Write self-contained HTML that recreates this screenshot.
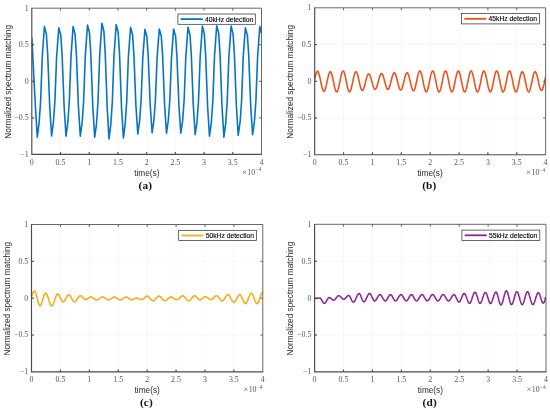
<!DOCTYPE html>
<html><head><meta charset="utf-8"><title>Normalized spectrum matching</title>
<style>
html,body{margin:0;padding:0;background:#fff;}
body{width:550px;height:410px;overflow:hidden;}
svg{display:block;}
.tk{font-family:"Liberation Serif","DejaVu Serif",serif;font-size:7.9px;fill:#585858;}
.lb{font-family:"Liberation Sans","DejaVu Sans",sans-serif;font-size:8.25px;fill:#2a2a2a;}
.lg{font-family:"Liberation Sans","DejaVu Sans",sans-serif;font-size:6.75px;fill:#000;stroke:#000;stroke-width:0.12px;}
.cp{font-family:"Liberation Serif","DejaVu Serif",serif;font-size:11.3px;font-weight:bold;fill:#111;letter-spacing:0.15px;}
.ax{stroke:#4c4c4c;stroke-width:1.15;fill:none;}
.ax2{stroke:#4c4c4c;stroke-width:0.85;fill:none;}
.gr{stroke:#f2f2f2;stroke-width:0.6;fill:none;}
</style></head><body>
<svg width="550" height="410" viewBox="0 0 550 410">
<rect x="0" y="0" width="550" height="410" fill="#ffffff"/>
<g>
<line class="gr" x1="60.51" y1="8.2" x2="60.51" y2="154.4"/>
<line class="gr" x1="89.22" y1="8.2" x2="89.22" y2="154.4"/>
<line class="gr" x1="117.94" y1="8.2" x2="117.94" y2="154.4"/>
<line class="gr" x1="146.65" y1="8.2" x2="146.65" y2="154.4"/>
<line class="gr" x1="175.36" y1="8.2" x2="175.36" y2="154.4"/>
<line class="gr" x1="204.07" y1="8.2" x2="204.07" y2="154.4"/>
<line class="gr" x1="232.79" y1="8.2" x2="232.79" y2="154.4"/>
<line class="gr" x1="31.8" y1="44.75" x2="261.5" y2="44.75"/>
<line class="gr" x1="31.8" y1="81.30" x2="261.5" y2="81.30"/>
<line class="gr" x1="31.8" y1="117.85" x2="261.5" y2="117.85"/>
<clipPath id="ca"><rect x="31.8" y="8.2" width="229.70" height="146.20"/></clipPath>
<polyline clip-path="url(#ca)" points="31.8,37.4 35.4,106.5 37.3,137.1 39.1,123.2 40.6,101.4 42.3,56.2 44.4,26.5 46.4,34.2 47.7,54.4 49.7,106.2 51.6,136.0 53.4,122.3 54.9,101.0 56.6,56.9 58.8,27.9 60.8,35.1 62.1,54.8 64.1,106.0 66.0,136.1 67.8,122.7 69.3,101.2 71.0,56.4 73.1,26.5 75.1,34.2 76.4,54.4 78.4,106.2 80.3,136.1 82.1,122.9 83.6,101.5 85.3,55.9 87.5,25.0 89.5,33.0 90.8,53.8 92.8,106.7 94.7,137.1 96.5,123.8 98.0,102.0 99.7,55.2 101.9,23.2 103.9,31.4 105.2,52.9 107.2,107.6 109.0,139.0 110.8,124.7 112.3,102.1 114.0,55.4 116.2,24.6 118.2,32.6 119.5,53.5 121.5,107.1 123.4,138.0 125.2,123.6 126.7,101.5 128.4,56.4 130.6,27.2 132.6,35.1 133.9,55.1 135.9,105.4 137.8,133.9 139.6,120.9 141.1,100.3 142.8,57.6 144.9,29.4 146.9,36.8 148.2,55.9 150.2,104.8 152.1,132.8 153.9,120.3 155.4,100.2 157.1,57.6 159.3,29.0 161.3,36.4 162.6,55.7 164.6,104.9 166.5,133.2 168.3,120.5 169.8,100.2 171.5,57.6 173.6,29.0 175.6,36.4 176.9,55.7 178.9,104.9 180.8,133.2 182.6,120.9 184.1,100.5 185.8,57.0 188.0,27.2 190.0,35.0 191.3,54.9 193.3,105.6 195.2,134.7 197.0,121.9 198.5,101.0 200.2,56.5 202.4,26.1 204.3,33.9 205.6,54.3 207.6,106.3 209.5,136.1 211.3,122.8 212.8,101.4 214.5,56.1 216.7,25.7 218.7,33.5 220.0,54.0 222.0,106.6 223.9,137.1 225.7,123.3 227.2,101.5 228.9,56.1 231.1,26.1 233.1,34.1 234.4,54.5 236.4,106.0 238.2,135.4 240.1,122.0 241.6,100.8 243.2,56.9 245.4,27.9 247.4,35.4 248.7,55.1 250.7,105.6 252.6,134.7 254.4,121.8 255.9,100.9 257.6,56.6 259.8,26.5 261.5,33.4" fill="none" stroke="#0574C6" stroke-width="1.6" stroke-linejoin="round"/>
<path class="ax2" d="M31.8 8.2H261.5V154.4"/>
<path class="ax" d="M31.8 7.799999999999999V154.4H261.9"/>
<text class="tk" x="31.80" y="164.6" text-anchor="middle">0</text>
<line class="ax" x1="60.51" y1="154.4" x2="60.51" y2="152.0"/>
<line class="ax2" x1="60.51" y1="8.2" x2="60.51" y2="10.6"/>
<text class="tk" x="60.51" y="164.6" text-anchor="middle">0.5</text>
<line class="ax" x1="89.22" y1="154.4" x2="89.22" y2="152.0"/>
<line class="ax2" x1="89.22" y1="8.2" x2="89.22" y2="10.6"/>
<text class="tk" x="89.22" y="164.6" text-anchor="middle">1</text>
<line class="ax" x1="117.94" y1="154.4" x2="117.94" y2="152.0"/>
<line class="ax2" x1="117.94" y1="8.2" x2="117.94" y2="10.6"/>
<text class="tk" x="117.94" y="164.6" text-anchor="middle">1.5</text>
<line class="ax" x1="146.65" y1="154.4" x2="146.65" y2="152.0"/>
<line class="ax2" x1="146.65" y1="8.2" x2="146.65" y2="10.6"/>
<text class="tk" x="146.65" y="164.6" text-anchor="middle">2</text>
<line class="ax" x1="175.36" y1="154.4" x2="175.36" y2="152.0"/>
<line class="ax2" x1="175.36" y1="8.2" x2="175.36" y2="10.6"/>
<text class="tk" x="175.36" y="164.6" text-anchor="middle">2.5</text>
<line class="ax" x1="204.07" y1="154.4" x2="204.07" y2="152.0"/>
<line class="ax2" x1="204.07" y1="8.2" x2="204.07" y2="10.6"/>
<text class="tk" x="204.07" y="164.6" text-anchor="middle">3</text>
<line class="ax" x1="232.79" y1="154.4" x2="232.79" y2="152.0"/>
<line class="ax2" x1="232.79" y1="8.2" x2="232.79" y2="10.6"/>
<text class="tk" x="232.79" y="164.6" text-anchor="middle">3.5</text>
<text class="tk" x="261.50" y="164.6" text-anchor="middle">4</text>
<text class="tk" x="28.6" y="10.6" text-anchor="end">1</text>
<line class="ax" x1="31.8" y1="44.75" x2="34.2" y2="44.75"/>
<line class="ax2" x1="261.5" y1="44.75" x2="259.1" y2="44.75"/>
<text class="tk" x="28.6" y="47.1" text-anchor="end">0.5</text>
<line class="ax" x1="31.8" y1="81.30" x2="34.2" y2="81.30"/>
<line class="ax2" x1="261.5" y1="81.30" x2="259.1" y2="81.30"/>
<text class="tk" x="28.6" y="83.7" text-anchor="end">0</text>
<line class="ax" x1="31.8" y1="117.85" x2="34.2" y2="117.85"/>
<line class="ax2" x1="261.5" y1="117.85" x2="259.1" y2="117.85"/>
<text class="tk" x="28.6" y="120.3" text-anchor="end">−0.5</text>
<text class="tk" x="28.6" y="156.8" text-anchor="end">−1</text>
<text class="tk" x="261.1" y="174.6" text-anchor="end"><tspan font-size="8.8px">×</tspan><tspan dx="0.5">10</tspan><tspan dy="-3.3" dx="0.2" font-size="5.3px">−4</tspan></text>
<text class="lb" x="146.8" y="175.8" text-anchor="middle">time(s)</text>
<text class="lb" transform="translate(11.1,81.8) rotate(-90)" text-anchor="middle">Normalized spectrum matching</text>
<text class="cp" x="145.4" y="188.7" text-anchor="middle">(a)</text>
<rect x="177.9" y="14.0" width="77.4" height="10.3" fill="#fff" stroke="#2a2a2a" stroke-width="0.7"/>
<line x1="180.7" y1="19.1" x2="202.7" y2="19.1" stroke="#0574C6" stroke-width="1.8"/>
<text class="lg" x="204.9" y="21.5">40kHz detection</text>
</g>
<g>
<line class="gr" x1="343.56" y1="7.8" x2="343.56" y2="154.7"/>
<line class="gr" x1="372.43" y1="7.8" x2="372.43" y2="154.7"/>
<line class="gr" x1="401.29" y1="7.8" x2="401.29" y2="154.7"/>
<line class="gr" x1="430.15" y1="7.8" x2="430.15" y2="154.7"/>
<line class="gr" x1="459.01" y1="7.8" x2="459.01" y2="154.7"/>
<line class="gr" x1="487.88" y1="7.8" x2="487.88" y2="154.7"/>
<line class="gr" x1="516.74" y1="7.8" x2="516.74" y2="154.7"/>
<line class="gr" x1="314.7" y1="44.52" x2="545.6" y2="44.52"/>
<line class="gr" x1="314.7" y1="81.25" x2="545.6" y2="81.25"/>
<line class="gr" x1="314.7" y1="117.97" x2="545.6" y2="117.97"/>
<clipPath id="cb"><rect x="314.7" y="7.8" width="230.90" height="146.90"/></clipPath>
<polyline clip-path="url(#cb)" points="314.7,79.3 315.1,77.6 315.4,76.0 315.8,74.6 316.1,73.4 316.5,72.4 316.9,71.7 317.2,71.3 317.6,71.3 318.0,71.5 318.3,72.1 318.7,72.9 319.0,74.0 319.4,75.3 319.8,76.8 320.1,78.5 320.5,80.2 320.8,82.0 321.2,83.8 321.6,85.4 321.9,87.0 322.3,88.4 322.6,89.5 323.0,90.4 323.4,91.0 323.7,91.3 324.1,91.3 324.5,90.9 324.8,90.3 325.2,89.4 325.5,88.3 325.9,86.9 326.3,85.4 326.6,83.8 327.0,82.0 327.3,80.3 327.7,78.6 328.1,77.0 328.4,75.5 328.8,74.3 329.2,73.2 329.5,72.4 329.9,71.9 330.2,71.7 330.6,71.8 331.0,72.2 331.3,73.0 331.7,74.0 332.0,75.2 332.4,76.7 332.8,78.3 333.1,80.0 333.5,81.8 333.9,83.6 334.2,85.3 334.6,86.9 334.9,88.4 335.3,89.6 335.7,90.6 336.0,91.3 336.4,91.8 336.7,91.9 337.1,91.7 337.5,91.2 337.8,90.3 338.2,89.2 338.5,87.9 338.9,86.3 339.3,84.6 339.6,82.8 340.0,80.9 340.4,79.1 340.7,77.3 341.1,75.7 341.4,74.2 341.8,73.0 342.2,72.0 342.5,71.4 342.9,71.0 343.2,71.0 343.6,71.3 344.0,71.9 344.3,72.8 344.7,74.0 345.1,75.4 345.4,77.0 345.8,78.8 346.1,80.6 346.5,82.5 346.9,84.3 347.2,86.0 347.6,87.6 347.9,89.0 348.3,90.2 348.7,91.0 349.0,91.6 349.4,91.9 349.8,91.8 350.1,91.4 350.5,90.8 350.8,89.8 351.2,88.6 351.6,87.2 351.9,85.6 352.3,83.8 352.6,82.1 353.0,80.3 353.4,78.5 353.7,76.9 354.1,75.4 354.4,74.1 354.8,73.1 355.2,72.3 355.5,71.9 355.9,71.7 356.3,71.8 356.6,72.3 357.0,73.0 357.3,74.0 357.7,75.1 358.1,76.5 358.4,78.0 358.8,79.6 359.1,81.3 359.5,82.9 359.9,84.5 360.2,86.0 360.6,87.3 361.0,88.5 361.3,89.4 361.7,90.0 362.0,90.4 362.4,90.4 362.8,90.2 363.1,89.8 363.5,89.1 363.8,88.2 364.2,87.1 364.6,85.8 364.9,84.4 365.3,83.0 365.6,81.5 366.0,80.1 366.4,78.7 366.7,77.4 367.1,76.3 367.5,75.4 367.8,74.7 368.2,74.2 368.5,73.9 368.9,73.9 369.3,74.2 369.6,74.7 370.0,75.4 370.3,76.3 370.7,77.4 371.1,78.6 371.4,79.9 371.8,81.2 372.2,82.6 372.5,83.9 372.9,85.2 373.2,86.3 373.6,87.3 374.0,88.2 374.3,88.8 374.7,89.2 375.0,89.3 375.4,89.2 375.8,88.9 376.1,88.3 376.5,87.5 376.9,86.6 377.2,85.4 377.6,84.2 377.9,82.8 378.3,81.4 378.7,80.0 379.0,78.7 379.4,77.4 379.7,76.3 380.1,75.3 380.5,74.5 380.8,74.0 381.2,73.6 381.5,73.5 381.9,73.7 382.3,74.1 382.6,74.7 383.0,75.6 383.4,76.6 383.7,77.8 384.1,79.1 384.4,80.4 384.8,81.8 385.2,83.2 385.5,84.6 385.9,85.8 386.2,86.9 386.6,87.8 387.0,88.5 387.3,89.0 387.7,89.3 388.1,89.3 388.4,89.1 388.8,88.6 389.1,87.8 389.5,86.9 389.9,85.8 390.2,84.5 390.6,83.1 390.9,81.7 391.3,80.2 391.7,78.8 392.0,77.4 392.4,76.2 392.8,75.1 393.1,74.2 393.5,73.5 393.8,73.0 394.2,72.8 394.6,72.9 394.9,73.2 395.3,73.8 395.6,74.6 396.0,75.7 396.4,76.9 396.7,78.2 397.1,79.7 397.4,81.2 397.8,82.8 398.2,84.2 398.5,85.6 398.9,86.9 399.3,88.0 399.6,88.9 400.0,89.5 400.3,89.9 400.7,90.1 401.1,89.9 401.4,89.5 401.8,88.9 402.1,88.0 402.5,86.9 402.9,85.6 403.2,84.2 403.6,82.7 404.0,81.2 404.3,79.7 404.7,78.2 405.0,76.8 405.4,75.6 405.8,74.6 406.1,73.8 406.5,73.2 406.8,72.9 407.2,72.8 407.6,73.0 407.9,73.5 408.3,74.3 408.6,75.3 409.0,76.5 409.4,77.9 409.7,79.4 410.1,80.9 410.5,82.5 410.8,84.1 411.2,85.6 411.5,87.0 411.9,88.2 412.3,89.2 412.6,90.0 413.0,90.5 413.3,90.8 413.7,90.7 414.1,90.4 414.4,89.8 414.8,88.9 415.2,87.7 415.5,86.3 415.9,84.8 416.2,83.1 416.6,81.3 417.0,79.6 417.3,77.9 417.7,76.3 418.0,74.8 418.4,73.5 418.8,72.4 419.1,71.7 419.5,71.2 419.9,71.0 420.2,71.1 420.6,71.5 420.9,72.3 421.3,73.3 421.7,74.6 422.0,76.2 422.4,77.8 422.7,79.6 423.1,81.5 423.5,83.3 423.8,85.1 424.2,86.8 424.5,88.3 424.9,89.6 425.3,90.6 425.6,91.4 426.0,91.8 426.4,91.9 426.7,91.7 427.1,91.1 427.4,90.3 427.8,89.2 428.2,87.8 428.5,86.2 428.9,84.5 429.2,82.7 429.6,80.9 430.0,79.0 430.3,77.3 430.7,75.6 431.1,74.2 431.4,73.0 431.8,72.0 432.1,71.4 432.5,71.0 432.9,71.0 433.2,71.3 433.6,71.9 433.9,72.9 434.3,74.1 434.7,75.5 435.0,77.1 435.4,78.9 435.8,80.7 436.1,82.5 436.5,84.4 436.8,86.1 437.2,87.7 437.6,89.1 437.9,90.2 438.3,91.1 438.6,91.6 439.0,91.9 439.4,91.8 439.7,91.4 440.1,90.7 440.4,89.7 440.8,88.4 441.2,86.9 441.5,85.3 441.9,83.5 442.3,81.6 442.6,79.8 443.0,78.0 443.3,76.3 443.7,74.8 444.1,73.5 444.4,72.4 444.8,71.6 445.1,71.1 445.5,71.0 445.9,71.1 446.2,71.6 446.6,72.4 447.0,73.5 447.3,74.9 447.7,76.4 448.0,78.1 448.4,79.9 448.8,81.8 449.1,83.6 449.5,85.4 449.8,87.0 450.2,88.5 450.6,89.8 450.9,90.7 451.3,91.4 451.7,91.8 452.0,91.9 452.4,91.6 452.7,91.0 453.1,90.1 453.5,89.0 453.8,87.6 454.2,86.0 454.5,84.2 454.9,82.4 455.3,80.6 455.6,78.7 456.0,77.0 456.3,75.4 456.7,74.0 457.1,72.8 457.4,71.9 457.8,71.3 458.2,71.0 458.5,71.0 458.9,71.4 459.2,72.1 459.6,73.0 460.0,74.3 460.3,75.7 460.7,77.4 461.0,79.1 461.4,81.0 461.8,82.8 462.1,84.6 462.5,86.3 462.9,87.9 463.2,89.3 463.6,90.4 463.9,91.2 464.3,91.7 464.7,91.9 465.0,91.8 465.4,91.3 465.7,90.5 466.1,89.5 466.5,88.2 466.8,86.7 467.2,85.0 467.5,83.2 467.9,81.4 468.3,79.5 468.6,77.7 469.0,76.1 469.4,74.6 469.7,73.3 470.1,72.2 470.4,71.5 470.8,71.1 471.2,71.0 471.5,71.2 471.9,71.7 472.2,72.6 472.6,73.7 473.0,75.1 473.3,76.7 473.7,78.4 474.1,80.2 474.4,82.0 474.8,83.9 475.1,85.6 475.5,87.3 475.9,88.7 476.2,89.9 476.6,90.9 476.9,91.5 477.3,91.9 477.7,91.9 478.0,91.5 478.4,90.9 478.8,90.0 479.1,88.8 479.5,87.3 479.8,85.7 480.2,84.0 480.6,82.1 480.9,80.3 481.3,78.5 481.6,76.7 482.0,75.2 482.4,73.8 482.7,72.6 483.1,71.8 483.4,71.2 483.8,71.0 484.2,71.1 484.5,71.5 484.9,72.2 485.3,73.2 485.6,74.5 486.0,76.0 486.3,77.6 486.7,79.4 487.1,81.3 487.4,83.1 487.8,84.9 488.1,86.6 488.5,88.1 488.9,89.4 489.2,90.5 489.6,91.3 490.0,91.8 490.3,91.9 490.7,91.7 491.0,91.2 491.4,90.4 491.8,89.3 492.1,88.0 492.5,86.4 492.8,84.7 493.2,82.9 493.6,81.1 493.9,79.2 494.3,77.5 494.7,75.8 495.0,74.3 495.4,73.1 495.7,72.1 496.1,71.4 496.5,71.0 496.8,71.0 497.2,71.3 497.5,71.9 497.9,72.8 498.3,73.9 498.6,75.3 499.0,76.9 499.3,78.7 499.7,80.5 500.1,82.3 500.4,84.2 500.8,85.9 501.2,87.5 501.5,88.9 501.9,90.1 502.2,91.0 502.6,91.6 503.0,91.9 503.3,91.8 503.7,91.5 504.0,90.8 504.4,89.8 504.8,88.6 505.1,87.1 505.5,85.5 505.9,83.7 506.2,81.9 506.6,80.0 506.9,78.2 507.3,76.5 507.7,74.9 508.0,73.6 508.4,72.5 508.7,71.7 509.1,71.2 509.5,71.0 509.8,71.1 510.2,71.6 510.5,72.3 510.9,73.4 511.3,74.7 511.6,76.2 512.0,77.9 512.4,79.7 512.7,81.5 513.1,83.4 513.4,85.2 513.8,86.8 514.2,88.3 514.5,89.6 514.9,90.6 515.2,91.4 515.6,91.8 516.0,91.9 516.3,91.7 516.7,91.1 517.1,90.3 517.4,89.2 517.8,87.9 518.1,86.4 518.5,84.7 518.9,83.0 519.2,81.2 519.6,79.4 519.9,77.7 520.3,76.1 520.7,74.8 521.0,73.6 521.4,72.7 521.8,72.1 522.1,71.7 522.5,71.7 522.8,72.1 523.2,72.7 523.6,73.6 523.9,74.7 524.3,76.1 524.6,77.7 525.0,79.4 525.4,81.2 525.7,82.9 526.1,84.7 526.4,86.4 526.8,87.9 527.2,89.2 527.5,90.3 527.9,91.1 528.3,91.7 528.6,91.9 529.0,91.8 529.3,91.4 529.7,90.7 530.1,89.7 530.4,88.5 530.8,87.0 531.1,85.4 531.5,83.7 531.9,81.9 532.2,80.1 532.6,78.4 533.0,76.8 533.3,75.3 533.7,74.1 534.0,73.0 534.4,72.3 534.8,71.8 535.1,71.7 535.5,71.9 535.8,72.3 536.2,73.1 536.6,74.0 536.9,75.2 537.3,76.6 537.7,78.2 538.0,79.8 538.4,81.4 538.7,83.1 539.1,84.7 539.5,86.1 539.8,87.4 540.2,88.5 540.5,89.4 540.9,90.0 541.3,90.4 541.6,90.4 542.0,90.2 542.3,89.6 542.7,88.8 543.1,87.8 543.4,86.5 543.8,85.1 544.2,83.5 544.5,81.9 544.9,80.2 545.2,78.6 545.6,77.0" fill="none" stroke="#F04E14" stroke-width="1.55" stroke-linejoin="round"/>
<path class="ax2" d="M314.7 7.8H545.6V154.7"/>
<path class="ax" d="M314.7 7.3999999999999995V154.7H546.0"/>
<text class="tk" x="314.70" y="164.9" text-anchor="middle">0</text>
<line class="ax" x1="343.56" y1="154.7" x2="343.56" y2="152.29999999999998"/>
<line class="ax2" x1="343.56" y1="7.8" x2="343.56" y2="10.2"/>
<text class="tk" x="343.56" y="164.9" text-anchor="middle">0.5</text>
<line class="ax" x1="372.43" y1="154.7" x2="372.43" y2="152.29999999999998"/>
<line class="ax2" x1="372.43" y1="7.8" x2="372.43" y2="10.2"/>
<text class="tk" x="372.43" y="164.9" text-anchor="middle">1</text>
<line class="ax" x1="401.29" y1="154.7" x2="401.29" y2="152.29999999999998"/>
<line class="ax2" x1="401.29" y1="7.8" x2="401.29" y2="10.2"/>
<text class="tk" x="401.29" y="164.9" text-anchor="middle">1.5</text>
<line class="ax" x1="430.15" y1="154.7" x2="430.15" y2="152.29999999999998"/>
<line class="ax2" x1="430.15" y1="7.8" x2="430.15" y2="10.2"/>
<text class="tk" x="430.15" y="164.9" text-anchor="middle">2</text>
<line class="ax" x1="459.01" y1="154.7" x2="459.01" y2="152.29999999999998"/>
<line class="ax2" x1="459.01" y1="7.8" x2="459.01" y2="10.2"/>
<text class="tk" x="459.01" y="164.9" text-anchor="middle">2.5</text>
<line class="ax" x1="487.88" y1="154.7" x2="487.88" y2="152.29999999999998"/>
<line class="ax2" x1="487.88" y1="7.8" x2="487.88" y2="10.2"/>
<text class="tk" x="487.88" y="164.9" text-anchor="middle">3</text>
<line class="ax" x1="516.74" y1="154.7" x2="516.74" y2="152.29999999999998"/>
<line class="ax2" x1="516.74" y1="7.8" x2="516.74" y2="10.2"/>
<text class="tk" x="516.74" y="164.9" text-anchor="middle">3.5</text>
<text class="tk" x="545.60" y="164.9" text-anchor="middle">4</text>
<text class="tk" x="311.5" y="10.2" text-anchor="end">1</text>
<line class="ax" x1="314.7" y1="44.52" x2="317.09999999999997" y2="44.52"/>
<line class="ax2" x1="545.6" y1="44.52" x2="543.2" y2="44.52"/>
<text class="tk" x="311.5" y="46.9" text-anchor="end">0.5</text>
<line class="ax" x1="314.7" y1="81.25" x2="317.09999999999997" y2="81.25"/>
<line class="ax2" x1="545.6" y1="81.25" x2="543.2" y2="81.25"/>
<text class="tk" x="311.5" y="83.6" text-anchor="end">0</text>
<line class="ax" x1="314.7" y1="117.97" x2="317.09999999999997" y2="117.97"/>
<line class="ax2" x1="545.6" y1="117.97" x2="543.2" y2="117.97"/>
<text class="tk" x="311.5" y="120.4" text-anchor="end">−0.5</text>
<text class="tk" x="311.5" y="157.1" text-anchor="end">−1</text>
<text class="tk" x="545.2" y="174.9" text-anchor="end"><tspan font-size="8.8px">×</tspan><tspan dx="0.5">10</tspan><tspan dy="-3.3" dx="0.2" font-size="5.3px">−4</tspan></text>
<text class="lb" x="430.1" y="176.1" text-anchor="middle">time(s)</text>
<text class="lb" transform="translate(293.4,81.8) rotate(-90)" text-anchor="middle">Normalized spectrum matching</text>
<text class="cp" x="429.3" y="189.0" text-anchor="middle">(b)</text>
<rect x="461.5" y="13.6" width="77.9" height="10.3" fill="#fff" stroke="#2a2a2a" stroke-width="0.7"/>
<line x1="464.3" y1="18.8" x2="486.3" y2="18.8" stroke="#F04E14" stroke-width="1.8"/>
<text class="lg" x="488.5" y="21.1">45kHz detection</text>
</g>
<g>
<line class="gr" x1="60.41" y1="224.5" x2="60.41" y2="371.9"/>
<line class="gr" x1="89.33" y1="224.5" x2="89.33" y2="371.9"/>
<line class="gr" x1="118.24" y1="224.5" x2="118.24" y2="371.9"/>
<line class="gr" x1="147.15" y1="224.5" x2="147.15" y2="371.9"/>
<line class="gr" x1="176.06" y1="224.5" x2="176.06" y2="371.9"/>
<line class="gr" x1="204.98" y1="224.5" x2="204.98" y2="371.9"/>
<line class="gr" x1="233.89" y1="224.5" x2="233.89" y2="371.9"/>
<line class="gr" x1="31.5" y1="261.35" x2="262.8" y2="261.35"/>
<line class="gr" x1="31.5" y1="298.20" x2="262.8" y2="298.20"/>
<line class="gr" x1="31.5" y1="335.05" x2="262.8" y2="335.05"/>
<clipPath id="cc"><rect x="31.5" y="224.5" width="231.30" height="147.40"/></clipPath>
<polyline clip-path="url(#cc)" points="31.5,296.9 31.9,295.7 32.2,294.6 32.6,293.6 32.9,292.8 33.3,292.0 33.7,291.5 34.0,291.2 34.4,291.1 34.8,291.2 35.1,291.7 35.5,292.4 35.8,293.4 36.2,294.6 36.6,295.9 36.9,297.4 37.3,298.9 37.7,300.4 38.0,301.8 38.4,303.0 38.7,304.1 39.1,305.0 39.5,305.5 39.8,305.8 40.2,305.8 40.5,305.6 40.9,305.0 41.3,304.3 41.6,303.3 42.0,302.2 42.4,301.0 42.7,299.7 43.1,298.4 43.4,297.2 43.8,296.0 44.2,295.0 44.5,294.2 44.9,293.5 45.3,293.2 45.6,293.0 46.0,293.2 46.3,293.5 46.7,294.1 47.1,294.8 47.4,295.7 47.8,296.8 48.2,297.9 48.5,299.1 48.9,300.3 49.2,301.5 49.6,302.6 50.0,303.6 50.3,304.4 50.7,305.1 51.0,305.6 51.4,305.8 51.8,305.9 52.1,305.7 52.5,305.3 52.9,304.7 53.2,304.0 53.6,303.1 53.9,302.1 54.3,301.0 54.7,299.9 55.0,298.7 55.4,297.7 55.8,296.7 56.1,295.8 56.5,295.0 56.8,294.5 57.2,294.1 57.6,293.9 57.9,294.0 58.3,294.2 58.6,294.5 59.0,295.0 59.4,295.7 59.7,296.4 60.1,297.2 60.5,298.0 60.8,298.8 61.2,299.6 61.5,300.3 61.9,300.9 62.3,301.4 62.6,301.7 63.0,301.9 63.4,301.9 63.7,301.7 64.1,301.4 64.4,301.0 64.8,300.4 65.2,299.8 65.5,299.1 65.9,298.4 66.2,297.6 66.6,296.9 67.0,296.3 67.3,295.7 67.7,295.3 68.1,294.9 68.4,294.8 68.8,294.7 69.1,294.9 69.5,295.1 69.9,295.5 70.2,295.9 70.6,296.5 71.0,297.1 71.3,297.8 71.7,298.5 72.0,299.2 72.4,299.9 72.8,300.4 73.1,301.0 73.5,301.4 73.9,301.7 74.2,301.8 74.6,301.9 74.9,301.8 75.3,301.6 75.7,301.3 76.0,300.9 76.4,300.4 76.7,299.9 77.1,299.3 77.5,298.7 77.8,298.1 78.2,297.6 78.6,297.1 78.9,296.6 79.3,296.2 79.6,296.0 80.0,295.8 80.4,295.8 80.7,295.8 81.1,296.0 81.5,296.2 81.8,296.5 82.2,296.8 82.5,297.2 82.9,297.6 83.3,298.0 83.6,298.4 84.0,298.8 84.3,299.1 84.7,299.3 85.1,299.5 85.4,299.6 85.8,299.6 86.2,299.5 86.5,299.4 86.9,299.2 87.2,299.0 87.6,298.8 88.0,298.5 88.3,298.2 88.7,297.9 89.1,297.7 89.4,297.4 89.8,297.2 90.1,297.1 90.5,297.0 90.9,296.9 91.2,297.0 91.6,297.0 91.9,297.2 92.3,297.4 92.7,297.6 93.0,297.8 93.4,298.1 93.8,298.4 94.1,298.7 94.5,299.0 94.8,299.2 95.2,299.5 95.6,299.7 95.9,299.8 96.3,299.9 96.7,300.0 97.0,300.0 97.4,299.9 97.7,299.8 98.1,299.6 98.5,299.4 98.8,299.1 99.2,298.9 99.6,298.6 99.9,298.3 100.3,298.0 100.6,297.7 101.0,297.5 101.4,297.3 101.7,297.1 102.1,297.0 102.4,297.0 102.8,297.0 103.2,297.0 103.5,297.1 103.9,297.3 104.3,297.5 104.6,297.7 105.0,298.0 105.3,298.3 105.7,298.6 106.1,298.8 106.4,299.1 106.8,299.4 107.2,299.6 107.5,299.8 107.9,299.9 108.2,300.0 108.6,300.0 109.0,299.9 109.3,299.8 109.7,299.7 110.0,299.5 110.4,299.3 110.8,299.0 111.1,298.7 111.5,298.4 111.9,298.2 112.2,297.9 112.6,297.6 112.9,297.4 113.3,297.2 113.7,297.1 114.0,297.0 114.4,296.9 114.8,297.0 115.1,297.0 115.5,297.2 115.8,297.4 116.2,297.6 116.6,297.8 116.9,298.1 117.3,298.4 117.6,298.7 118.0,299.0 118.4,299.2 118.7,299.5 119.1,299.7 119.5,299.8 119.8,299.9 120.2,300.0 120.5,300.0 120.9,299.9 121.3,299.8 121.6,299.6 122.0,299.4 122.4,299.1 122.7,298.9 123.1,298.6 123.4,298.3 123.8,298.0 124.2,297.7 124.5,297.5 124.9,297.3 125.3,297.1 125.6,297.0 126.0,297.0 126.3,297.0 126.7,297.0 127.1,297.2 127.4,297.4 127.8,297.6 128.1,297.9 128.5,298.2 128.9,298.6 129.2,298.9 129.6,299.2 130.0,299.5 130.3,299.7 130.7,299.8 131.0,299.9 131.4,300.0 131.8,299.9 132.1,299.9 132.5,299.8 132.9,299.6 133.2,299.4 133.6,299.2 133.9,299.0 134.3,298.8 134.7,298.6 135.0,298.4 135.4,298.3 135.7,298.2 136.1,298.1 136.5,298.1 136.8,298.1 137.2,298.1 137.6,298.2 137.9,298.3 138.3,298.4 138.6,298.6 139.0,298.7 139.4,298.9 139.7,299.1 140.1,299.2 140.5,299.3 140.8,299.5 141.2,299.5 141.5,299.6 141.9,299.6 142.3,299.6 142.6,299.4 143.0,299.2 143.3,299.0 143.7,298.7 144.1,298.3 144.4,297.9 144.8,297.6 145.2,297.2 145.5,296.9 145.9,296.6 146.2,296.3 146.6,296.2 147.0,296.1 147.3,296.1 147.7,296.1 148.1,296.3 148.4,296.5 148.8,296.9 149.1,297.2 149.5,297.6 149.9,298.1 150.2,298.6 150.6,299.0 151.0,299.5 151.3,299.8 151.7,300.2 152.0,300.5 152.4,300.7 152.8,300.8 153.1,300.9 153.5,300.8 153.8,300.7 154.2,300.4 154.6,300.2 154.9,299.8 155.3,299.4 155.7,298.9 156.0,298.5 156.4,298.0 156.7,297.6 157.1,297.2 157.5,296.8 157.8,296.5 158.2,296.3 158.6,296.1 158.9,296.1 159.3,296.1 159.6,296.2 160.0,296.4 160.4,296.7 160.7,297.0 161.1,297.4 161.4,297.9 161.8,298.3 162.2,298.8 162.5,299.2 162.9,299.7 163.3,300.0 163.6,300.3 164.0,300.6 164.3,300.8 164.7,300.8 165.1,300.8 165.4,300.8 165.8,300.6 166.2,300.4 166.5,300.1 166.9,299.8 167.2,299.5 167.6,299.1 168.0,298.8 168.3,298.4 168.7,298.0 169.0,297.7 169.4,297.5 169.8,297.3 170.1,297.1 170.5,297.0 170.9,297.0 171.2,297.1 171.6,297.1 171.9,297.3 172.3,297.4 172.7,297.6 173.0,297.8 173.4,298.1 173.8,298.3 174.1,298.6 174.5,298.8 174.8,299.0 175.2,299.2 175.6,299.4 175.9,299.5 176.3,299.6 176.7,299.6 177.0,299.6 177.4,299.5 177.7,299.4 178.1,299.2 178.5,298.9 178.8,298.6 179.2,298.3 179.5,297.9 179.9,297.6 180.3,297.2 180.6,296.9 181.0,296.5 181.4,296.3 181.7,296.1 182.1,295.9 182.4,295.8 182.8,295.8 183.2,295.8 183.5,296.0 183.9,296.2 184.3,296.5 184.6,296.9 185.0,297.3 185.3,297.8 185.7,298.2 186.1,298.7 186.4,299.2 186.8,299.6 187.1,300.0 187.5,300.3 187.9,300.6 188.2,300.8 188.6,300.8 189.0,300.8 189.3,300.7 189.7,300.5 190.0,300.2 190.4,299.9 190.8,299.5 191.1,299.0 191.5,298.6 191.9,298.1 192.2,297.6 192.6,297.1 192.9,296.7 193.3,296.4 193.7,296.1 194.0,295.9 194.4,295.8 194.7,295.8 195.1,295.8 195.5,296.0 195.8,296.3 196.2,296.6 196.6,297.0 196.9,297.4 197.3,297.8 197.6,298.3 198.0,298.7 198.4,299.1 198.7,299.4 199.1,299.7 199.5,299.9 199.8,300.0 200.2,300.0 200.5,299.9 200.9,299.7 201.3,299.5 201.6,299.2 202.0,298.9 202.4,298.6 202.7,298.2 203.1,297.9 203.4,297.5 203.8,297.2 204.2,297.0 204.5,296.8 204.9,296.7 205.2,296.7 205.6,296.7 206.0,296.8 206.3,296.9 206.7,297.1 207.1,297.3 207.4,297.6 207.8,297.9 208.1,298.2 208.5,298.5 208.9,298.8 209.2,299.0 209.6,299.2 210.0,299.4 210.3,299.5 210.7,299.6 211.0,299.6 211.4,299.5 211.8,299.4 212.1,299.2 212.5,298.9 212.8,298.6 213.2,298.2 213.6,297.8 213.9,297.4 214.3,297.0 214.7,296.7 215.0,296.4 215.4,296.1 215.7,295.9 216.1,295.8 216.5,295.8 216.8,295.8 217.2,296.0 217.6,296.2 217.9,296.5 218.3,296.9 218.6,297.3 219.0,297.8 219.4,298.3 219.7,298.8 220.1,299.3 220.4,299.7 220.8,300.1 221.2,300.4 221.5,300.7 221.9,300.8 222.3,300.9 222.6,300.8 223.0,300.6 223.3,300.3 223.7,299.9 224.1,299.4 224.4,298.8 224.8,298.2 225.2,297.6 225.5,297.0 225.9,296.4 226.2,295.9 226.6,295.4 227.0,295.0 227.3,294.7 227.7,294.6 228.1,294.5 228.4,294.6 228.8,294.9 229.1,295.2 229.5,295.7 229.9,296.3 230.2,297.0 230.6,297.7 230.9,298.5 231.3,299.3 231.7,300.0 232.0,300.7 232.4,301.3 232.8,301.7 233.1,302.1 233.5,302.3 233.8,302.4 234.2,302.3 234.6,302.1 234.9,301.8 235.3,301.3 235.7,300.8 236.0,300.1 236.4,299.4 236.7,298.7 237.1,297.9 237.5,297.2 237.8,296.5 238.2,296.0 238.5,295.5 238.9,295.1 239.3,294.8 239.6,294.7 240.0,294.8 240.4,295.0 240.7,295.4 241.1,295.9 241.4,296.6 241.8,297.3 242.2,298.1 242.5,299.0 242.9,299.9 243.3,300.7 243.6,301.5 244.0,302.2 244.3,302.8 244.7,303.2 245.1,303.5 245.4,303.7 245.8,303.6 246.1,303.3 246.5,302.9 246.9,302.3 247.2,301.5 247.6,300.6 248.0,299.6 248.3,298.6 248.7,297.6 249.0,296.6 249.4,295.7 249.8,294.9 250.1,294.2 250.5,293.7 250.9,293.3 251.2,293.2 251.6,293.3 251.9,293.5 252.3,294.0 252.7,294.6 253.0,295.3 253.4,296.2 253.8,297.2 254.1,298.2 254.5,299.2 254.8,300.2 255.2,301.1 255.6,301.9 255.9,302.6 256.3,303.1 256.6,303.5 257.0,303.6 257.4,303.6 257.7,303.3 258.1,302.9 258.5,302.2 258.8,301.4 259.2,300.4 259.5,299.3 259.9,298.2 260.3,297.1 260.6,295.9 261.0,294.9 261.4,294.0 261.7,293.2 262.1,292.6 262.4,292.2 262.8,292.0" fill="none" stroke="#F8AC18" stroke-width="1.55" stroke-linejoin="round"/>
<path class="ax2" d="M31.5 224.5H262.8V371.9"/>
<path class="ax" d="M31.5 224.1V371.9H263.2"/>
<text class="tk" x="31.50" y="382.1" text-anchor="middle">0</text>
<line class="ax" x1="60.41" y1="371.9" x2="60.41" y2="369.5"/>
<line class="ax2" x1="60.41" y1="224.5" x2="60.41" y2="226.9"/>
<text class="tk" x="60.41" y="382.1" text-anchor="middle">0.5</text>
<line class="ax" x1="89.33" y1="371.9" x2="89.33" y2="369.5"/>
<line class="ax2" x1="89.33" y1="224.5" x2="89.33" y2="226.9"/>
<text class="tk" x="89.33" y="382.1" text-anchor="middle">1</text>
<line class="ax" x1="118.24" y1="371.9" x2="118.24" y2="369.5"/>
<line class="ax2" x1="118.24" y1="224.5" x2="118.24" y2="226.9"/>
<text class="tk" x="118.24" y="382.1" text-anchor="middle">1.5</text>
<line class="ax" x1="147.15" y1="371.9" x2="147.15" y2="369.5"/>
<line class="ax2" x1="147.15" y1="224.5" x2="147.15" y2="226.9"/>
<text class="tk" x="147.15" y="382.1" text-anchor="middle">2</text>
<line class="ax" x1="176.06" y1="371.9" x2="176.06" y2="369.5"/>
<line class="ax2" x1="176.06" y1="224.5" x2="176.06" y2="226.9"/>
<text class="tk" x="176.06" y="382.1" text-anchor="middle">2.5</text>
<line class="ax" x1="204.98" y1="371.9" x2="204.98" y2="369.5"/>
<line class="ax2" x1="204.98" y1="224.5" x2="204.98" y2="226.9"/>
<text class="tk" x="204.98" y="382.1" text-anchor="middle">3</text>
<line class="ax" x1="233.89" y1="371.9" x2="233.89" y2="369.5"/>
<line class="ax2" x1="233.89" y1="224.5" x2="233.89" y2="226.9"/>
<text class="tk" x="233.89" y="382.1" text-anchor="middle">3.5</text>
<text class="tk" x="262.80" y="382.1" text-anchor="middle">4</text>
<text class="tk" x="28.3" y="226.9" text-anchor="end">1</text>
<line class="ax" x1="31.5" y1="261.35" x2="33.9" y2="261.35"/>
<line class="ax2" x1="262.8" y1="261.35" x2="260.40000000000003" y2="261.35"/>
<text class="tk" x="28.3" y="263.8" text-anchor="end">0.5</text>
<line class="ax" x1="31.5" y1="298.20" x2="33.9" y2="298.20"/>
<line class="ax2" x1="262.8" y1="298.20" x2="260.40000000000003" y2="298.20"/>
<text class="tk" x="28.3" y="300.6" text-anchor="end">0</text>
<line class="ax" x1="31.5" y1="335.05" x2="33.9" y2="335.05"/>
<line class="ax2" x1="262.8" y1="335.05" x2="260.40000000000003" y2="335.05"/>
<text class="tk" x="28.3" y="337.4" text-anchor="end">−0.5</text>
<text class="tk" x="28.3" y="374.3" text-anchor="end">−1</text>
<text class="tk" x="262.4" y="392.1" text-anchor="end"><tspan font-size="8.8px">×</tspan><tspan dx="0.5">10</tspan><tspan dy="-3.3" dx="0.2" font-size="5.3px">−4</tspan></text>
<text class="lb" x="147.2" y="393.3" text-anchor="middle">time(s)</text>
<text class="lb" transform="translate(10.3,298.7) rotate(-90)" text-anchor="middle">Normalized spectrum matching</text>
<text class="cp" x="146.4" y="406.2" text-anchor="middle">(c)</text>
<rect x="178.7" y="230.3" width="77.9" height="10.3" fill="#fff" stroke="#2a2a2a" stroke-width="0.7"/>
<line x1="181.5" y1="235.5" x2="203.5" y2="235.5" stroke="#F8AC18" stroke-width="1.8"/>
<text class="lg" x="205.7" y="237.9">50kHz detection</text>
</g>
<g>
<line class="gr" x1="343.53" y1="224.3" x2="343.53" y2="371.9"/>
<line class="gr" x1="372.45" y1="224.3" x2="372.45" y2="371.9"/>
<line class="gr" x1="401.38" y1="224.3" x2="401.38" y2="371.9"/>
<line class="gr" x1="430.30" y1="224.3" x2="430.30" y2="371.9"/>
<line class="gr" x1="459.23" y1="224.3" x2="459.23" y2="371.9"/>
<line class="gr" x1="488.15" y1="224.3" x2="488.15" y2="371.9"/>
<line class="gr" x1="517.08" y1="224.3" x2="517.08" y2="371.9"/>
<line class="gr" x1="314.6" y1="261.20" x2="546.0" y2="261.20"/>
<line class="gr" x1="314.6" y1="298.10" x2="546.0" y2="298.10"/>
<line class="gr" x1="314.6" y1="335.00" x2="546.0" y2="335.00"/>
<clipPath id="cd"><rect x="314.6" y="224.3" width="231.40" height="147.60"/></clipPath>
<polyline clip-path="url(#cd)" points="314.6,298.4 315.0,298.4 315.3,298.4 315.7,298.4 316.0,298.4 316.4,298.4 316.8,298.4 317.1,298.3 317.5,298.2 317.9,298.2 318.2,298.1 318.6,298.0 318.9,297.9 319.3,297.9 319.7,297.9 320.0,298.0 320.4,298.2 320.8,298.6 321.1,299.1 321.5,299.7 321.8,300.4 322.2,301.0 322.6,301.7 322.9,302.2 323.3,302.7 323.7,303.1 324.0,303.3 324.4,303.3 324.7,303.2 325.1,303.0 325.5,302.6 325.8,302.1 326.2,301.5 326.6,300.8 326.9,300.1 327.3,299.5 327.6,298.9 328.0,298.4 328.4,298.0 328.7,297.7 329.1,297.6 329.4,297.6 329.8,297.7 330.2,297.9 330.5,298.1 330.9,298.4 331.3,298.7 331.6,299.1 332.0,299.4 332.3,299.7 332.7,299.9 333.1,300.1 333.4,300.2 333.8,300.2 334.2,300.1 334.5,299.8 334.9,299.5 335.2,299.2 335.6,298.7 336.0,298.2 336.3,297.7 336.7,297.2 337.1,296.8 337.4,296.4 337.8,296.0 338.1,295.8 338.5,295.7 338.9,295.7 339.2,295.8 339.6,295.9 339.9,296.2 340.3,296.5 340.7,296.8 341.0,297.2 341.4,297.6 341.8,298.0 342.1,298.4 342.5,298.7 342.8,299.0 343.2,299.2 343.6,299.3 343.9,299.3 344.3,299.2 344.7,299.0 345.0,298.7 345.4,298.4 345.7,297.9 346.1,297.5 346.5,297.1 346.8,296.6 347.2,296.2 347.6,295.9 347.9,295.7 348.3,295.5 348.6,295.4 349.0,295.5 349.4,295.8 349.7,296.3 350.1,296.8 350.5,297.6 350.8,298.3 351.2,299.2 351.5,299.9 351.9,300.7 352.3,301.3 352.6,301.7 353.0,302.0 353.3,302.1 353.7,302.0 354.1,301.7 354.4,301.3 354.8,300.8 355.2,300.1 355.5,299.4 355.9,298.6 356.2,297.7 356.6,296.9 357.0,296.1 357.3,295.3 357.7,294.7 358.1,294.2 358.4,293.8 358.8,293.6 359.1,293.5 359.5,293.7 359.9,294.1 360.2,294.7 360.6,295.4 361.0,296.3 361.3,297.3 361.7,298.3 362.0,299.2 362.4,300.1 362.8,300.8 363.1,301.4 363.5,301.7 363.8,301.8 364.2,301.7 364.6,301.4 364.9,301.0 365.3,300.5 365.7,299.9 366.0,299.2 366.4,298.4 366.7,297.6 367.1,296.8 367.5,296.0 367.8,295.3 368.2,294.7 368.6,294.2 368.9,293.8 369.3,293.6 369.6,293.5 370.0,293.6 370.4,293.9 370.7,294.4 371.1,295.0 371.5,295.8 371.8,296.6 372.2,297.4 372.5,298.2 372.9,299.0 373.3,299.7 373.6,300.3 374.0,300.7 374.4,300.9 374.7,300.9 375.1,300.8 375.4,300.5 375.8,300.2 376.2,299.7 376.5,299.1 376.9,298.5 377.2,297.9 377.6,297.2 378.0,296.6 378.3,296.0 378.7,295.5 379.1,295.1 379.4,294.8 379.8,294.7 380.1,294.6 380.5,294.8 380.9,295.0 381.2,295.4 381.6,295.9 382.0,296.5 382.3,297.1 382.7,297.8 383.0,298.4 383.4,299.1 383.8,299.7 384.1,300.1 384.5,300.5 384.9,300.8 385.2,300.9 385.6,300.9 385.9,300.7 386.3,300.4 386.7,299.9 387.0,299.4 387.4,298.7 387.7,298.0 388.1,297.3 388.5,296.7 388.8,296.0 389.2,295.5 389.6,295.1 389.9,294.8 390.3,294.6 390.6,294.7 391.0,294.8 391.4,295.1 391.7,295.6 392.1,296.1 392.5,296.8 392.8,297.5 393.2,298.2 393.5,298.8 393.9,299.5 394.3,300.0 394.6,300.4 395.0,300.7 395.4,300.9 395.7,300.9 396.1,300.7 396.4,300.5 396.8,300.1 397.2,299.6 397.5,299.0 397.9,298.4 398.3,297.8 398.6,297.1 399.0,296.5 399.3,295.9 399.7,295.4 400.1,295.1 400.4,294.8 400.8,294.7 401.1,294.6 401.5,294.8 401.9,295.1 402.2,295.4 402.6,295.9 403.0,296.5 403.3,297.2 403.7,297.8 404.0,298.5 404.4,299.1 404.8,299.7 405.1,300.2 405.5,300.5 405.9,300.8 406.2,300.9 406.6,300.9 406.9,300.7 407.3,300.4 407.7,299.9 408.0,299.4 408.4,298.7 408.8,298.0 409.1,297.3 409.5,296.7 409.8,296.1 410.2,295.5 410.6,295.1 410.9,294.8 411.3,294.6 411.7,294.7 412.0,294.8 412.4,295.1 412.7,295.6 413.1,296.1 413.5,296.8 413.8,297.4 414.2,298.1 414.5,298.8 414.9,299.5 415.3,300.0 415.6,300.4 416.0,300.7 416.4,300.9 416.7,300.9 417.1,300.7 417.4,300.5 417.8,300.1 418.2,299.6 418.5,299.0 418.9,298.4 419.3,297.8 419.6,297.1 420.0,296.5 420.3,295.9 420.7,295.4 421.1,295.1 421.4,294.8 421.8,294.7 422.2,294.6 422.5,294.8 422.9,295.0 423.2,295.4 423.6,295.9 424.0,296.5 424.3,297.1 424.7,297.8 425.0,298.4 425.4,299.0 425.8,299.6 426.1,300.1 426.5,300.5 426.9,300.7 427.2,300.8 427.6,300.8 427.9,300.6 428.3,300.3 428.7,299.9 429.0,299.3 429.4,298.7 429.8,298.1 430.1,297.4 430.5,296.7 430.8,296.1 431.2,295.6 431.6,295.1 431.9,294.8 432.3,294.7 432.7,294.6 433.0,294.8 433.4,295.0 433.7,295.4 434.1,295.8 434.5,296.4 434.8,297.0 435.2,297.7 435.6,298.3 435.9,298.9 436.3,299.5 436.6,300.0 437.0,300.4 437.4,300.7 437.7,300.9 438.1,300.9 438.4,300.8 438.8,300.5 439.2,300.1 439.5,299.6 439.9,299.0 440.3,298.4 440.6,297.7 441.0,297.0 441.3,296.4 441.7,295.8 442.1,295.3 442.4,294.9 442.8,294.7 443.2,294.6 443.5,294.7 443.9,294.9 444.2,295.2 444.6,295.7 445.0,296.2 445.3,296.8 445.7,297.5 446.1,298.2 446.4,298.8 446.8,299.4 447.1,299.9 447.5,300.4 447.9,300.7 448.2,300.9 448.6,300.9 448.9,300.8 449.3,300.6 449.7,300.2 450.0,299.8 450.4,299.2 450.8,298.6 451.1,298.0 451.5,297.4 451.8,296.7 452.2,296.1 452.6,295.6 452.9,295.2 453.3,294.9 453.7,294.7 454.0,294.6 454.4,294.7 454.7,295.0 455.1,295.5 455.5,296.1 455.8,296.8 456.2,297.6 456.6,298.4 456.9,299.2 457.3,300.0 457.6,300.7 458.0,301.3 458.4,301.7 458.7,302.0 459.1,302.1 459.5,302.0 459.8,301.7 460.2,301.2 460.5,300.5 460.9,299.7 461.3,298.8 461.6,297.8 462.0,296.9 462.3,296.0 462.7,295.2 463.1,294.5 463.4,294.0 463.8,293.6 464.2,293.5 464.5,293.6 464.9,293.9 465.2,294.5 465.6,295.2 466.0,296.0 466.3,297.0 466.7,298.0 467.1,299.0 467.4,300.0 467.8,301.0 468.1,301.8 468.5,302.5 468.9,303.0 469.2,303.3 469.6,303.3 470.0,303.2 470.3,302.8 470.7,302.2 471.0,301.4 471.4,300.4 471.8,299.3 472.1,298.2 472.5,297.0 472.9,295.9 473.2,294.9 473.6,293.9 473.9,293.2 474.3,292.6 474.7,292.3 475.0,292.2 475.4,292.4 475.7,292.8 476.1,293.5 476.5,294.3 476.8,295.4 477.2,296.6 477.6,297.8 477.9,299.0 478.3,300.2 478.6,301.2 479.0,302.1 479.4,302.8 479.7,303.2 480.1,303.3 480.5,303.2 480.8,302.9 481.2,302.3 481.5,301.5 481.9,300.5 482.3,299.4 482.6,298.3 483.0,297.1 483.4,296.0 483.7,294.9 484.1,294.0 484.4,293.2 484.8,292.7 485.2,292.4 485.5,292.4 485.9,292.6 486.2,293.1 486.6,293.8 487.0,294.8 487.3,295.9 487.7,297.1 488.1,298.3 488.4,299.6 488.8,300.7 489.1,301.7 489.5,302.5 489.9,303.1 490.2,303.4 490.6,303.5 491.0,303.3 491.3,302.8 491.7,302.1 492.0,301.3 492.4,300.3 492.8,299.1 493.1,298.0 493.5,296.8 493.9,295.6 494.2,294.6 494.6,293.7 494.9,293.0 495.3,292.4 495.7,292.2 496.0,292.1 496.4,292.4 496.8,293.0 497.1,293.9 497.5,294.9 497.8,296.2 498.2,297.6 498.6,299.0 498.9,300.4 499.3,301.7 499.6,302.9 500.0,303.8 500.4,304.5 500.7,304.9 501.1,305.0 501.5,304.7 501.8,304.2 502.2,303.3 502.5,302.3 502.9,301.0 503.3,299.6 503.6,298.1 504.0,296.6 504.4,295.1 504.7,293.8 505.1,292.7 505.4,291.8 505.8,291.2 506.2,290.8 506.5,290.8 506.9,291.2 507.3,291.8 507.6,292.7 508.0,293.9 508.3,295.2 508.7,296.7 509.1,298.2 509.4,299.7 509.8,301.1 510.1,302.3 510.5,303.3 510.9,304.0 511.2,304.5 511.6,304.6 512.0,304.4 512.3,303.9 512.7,303.2 513.0,302.2 513.4,301.1 513.8,299.8 514.1,298.4 514.5,297.1 514.9,295.8 515.2,294.5 515.6,293.5 515.9,292.6 516.3,292.1 516.7,291.7 517.0,291.7 517.4,292.0 517.8,292.5 518.1,293.3 518.5,294.3 518.8,295.5 519.2,296.8 519.6,298.1 519.9,299.5 520.3,300.8 520.7,302.0 521.0,303.0 521.4,303.8 521.7,304.3 522.1,304.6 522.5,304.5 522.8,304.2 523.2,303.6 523.5,302.7 523.9,301.6 524.3,300.4 524.6,299.0 525.0,297.6 525.4,296.2 525.7,294.9 526.1,293.8 526.4,292.9 526.8,292.2 527.2,291.8 527.5,291.7 527.9,291.9 528.3,292.3 528.6,293.1 529.0,294.0 529.3,295.2 529.7,296.5 530.1,297.8 530.4,299.2 530.8,300.5 531.2,301.7 531.5,302.8 531.9,303.6 532.2,304.2 532.6,304.5 533.0,304.6 533.3,304.4 533.7,303.9 534.0,303.2 534.4,302.3 534.8,301.3 535.1,300.1 535.5,298.9 535.9,297.6 536.2,296.5 536.6,295.4 536.9,294.4 537.3,293.6 537.7,293.1 538.0,292.8 538.4,292.7 538.8,292.9 539.1,293.4 539.5,294.1 539.8,295.1 540.2,296.2 540.6,297.3 540.9,298.5 541.3,299.7 541.7,300.8 542.0,301.7 542.4,302.4 542.7,302.9 543.1,303.1 543.5,303.0 543.8,302.7 544.2,302.2 544.6,301.4 544.9,300.5 545.3,299.4 545.6,298.3 546.0,297.1" fill="none" stroke="#8E249C" stroke-width="1.55" stroke-linejoin="round"/>
<path class="ax2" d="M314.6 224.3H546.0V371.9"/>
<path class="ax" d="M314.6 223.9V371.9H546.4"/>
<text class="tk" x="314.60" y="382.1" text-anchor="middle">0</text>
<line class="ax" x1="343.53" y1="371.9" x2="343.53" y2="369.5"/>
<line class="ax2" x1="343.53" y1="224.3" x2="343.53" y2="226.70000000000002"/>
<text class="tk" x="343.53" y="382.1" text-anchor="middle">0.5</text>
<line class="ax" x1="372.45" y1="371.9" x2="372.45" y2="369.5"/>
<line class="ax2" x1="372.45" y1="224.3" x2="372.45" y2="226.70000000000002"/>
<text class="tk" x="372.45" y="382.1" text-anchor="middle">1</text>
<line class="ax" x1="401.38" y1="371.9" x2="401.38" y2="369.5"/>
<line class="ax2" x1="401.38" y1="224.3" x2="401.38" y2="226.70000000000002"/>
<text class="tk" x="401.38" y="382.1" text-anchor="middle">1.5</text>
<line class="ax" x1="430.30" y1="371.9" x2="430.30" y2="369.5"/>
<line class="ax2" x1="430.30" y1="224.3" x2="430.30" y2="226.70000000000002"/>
<text class="tk" x="430.30" y="382.1" text-anchor="middle">2</text>
<line class="ax" x1="459.23" y1="371.9" x2="459.23" y2="369.5"/>
<line class="ax2" x1="459.23" y1="224.3" x2="459.23" y2="226.70000000000002"/>
<text class="tk" x="459.23" y="382.1" text-anchor="middle">2.5</text>
<line class="ax" x1="488.15" y1="371.9" x2="488.15" y2="369.5"/>
<line class="ax2" x1="488.15" y1="224.3" x2="488.15" y2="226.70000000000002"/>
<text class="tk" x="488.15" y="382.1" text-anchor="middle">3</text>
<line class="ax" x1="517.08" y1="371.9" x2="517.08" y2="369.5"/>
<line class="ax2" x1="517.08" y1="224.3" x2="517.08" y2="226.70000000000002"/>
<text class="tk" x="517.08" y="382.1" text-anchor="middle">3.5</text>
<text class="tk" x="546.00" y="382.1" text-anchor="middle">4</text>
<text class="tk" x="311.4" y="226.7" text-anchor="end">1</text>
<line class="ax" x1="314.6" y1="261.20" x2="317.0" y2="261.20"/>
<line class="ax2" x1="546.0" y1="261.20" x2="543.6" y2="261.20"/>
<text class="tk" x="311.4" y="263.6" text-anchor="end">0.5</text>
<line class="ax" x1="314.6" y1="298.10" x2="317.0" y2="298.10"/>
<line class="ax2" x1="546.0" y1="298.10" x2="543.6" y2="298.10"/>
<text class="tk" x="311.4" y="300.5" text-anchor="end">0</text>
<line class="ax" x1="314.6" y1="335.00" x2="317.0" y2="335.00"/>
<line class="ax2" x1="546.0" y1="335.00" x2="543.6" y2="335.00"/>
<text class="tk" x="311.4" y="337.4" text-anchor="end">−0.5</text>
<text class="tk" x="311.4" y="374.3" text-anchor="end">−1</text>
<text class="tk" x="545.6" y="392.1" text-anchor="end"><tspan font-size="8.8px">×</tspan><tspan dx="0.5">10</tspan><tspan dy="-3.3" dx="0.2" font-size="5.3px">−4</tspan></text>
<text class="lb" x="430.4" y="393.3" text-anchor="middle">time(s)</text>
<text class="lb" transform="translate(293.3,298.6) rotate(-90)" text-anchor="middle">Normalized spectrum matching</text>
<text class="cp" x="429.7" y="406.2" text-anchor="middle">(d)</text>
<rect x="461.9" y="230.1" width="77.9" height="10.3" fill="#fff" stroke="#2a2a2a" stroke-width="0.7"/>
<line x1="464.7" y1="235.3" x2="486.7" y2="235.3" stroke="#8E249C" stroke-width="1.8"/>
<text class="lg" x="488.9" y="237.7">55kHz detection</text>
</g>
</svg></body></html>
